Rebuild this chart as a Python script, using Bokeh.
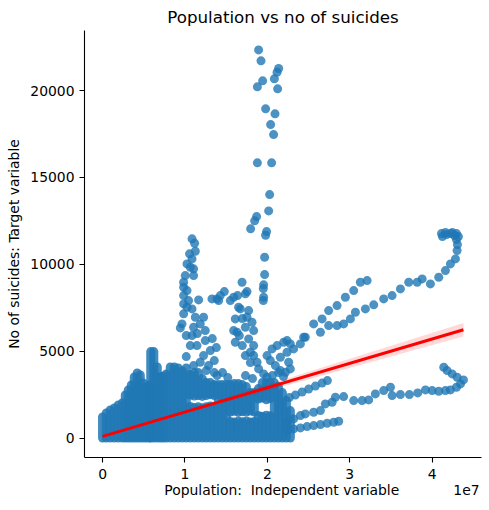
from bokeh.plotting import figure
from bokeh.models import Range1d, FixedTicker, LinearAxis
from bokeh.embed import file_html
from bokeh.resources import INLINE

M = 1e6  # populations below are given in millions

# dense core of the cloud, read as vertical runs of overlapping points
core_pop = [0.0, 0.45, 0.93, 1.42, 1.91, 2.39, 2.76, 3.12, 3.49, 3.85, 4.21, 4.58, 4.94,
            5.31, 5.67, 5.85, 6.22, 6.64, 7.01, 7.37, 7.74, 8.22, 8.71, 9.19, 9.68, 10.16,
            10.65, 10.65, 11.14, 11.14, 11.62, 11.62, 12.11, 12.11, 12.59, 12.59, 13.08, 13.08,
            13.56, 13.56, 14.05, 14.54, 15.02,
            15.51, 15.51, 15.99, 15.99, 16.48, 16.48, 16.96, 16.96, 17.45, 17.45, 17.94, 17.94,
            18.42, 18.42, 18.91, 18.91, 19.39, 19.39, 19.88, 19.88, 20.36, 20.36,
            20.85, 21.34, 21.82, 22.31, 22.79]
core_lo = [0, 0, 0, 0, 0, 0, 0, 0, 0, 0, 0, 0, 0,
           0, 0, 0, 0, 0, 0, 0, 0, 0, 0, 0, 0, 0,
           0, 2480, 0, 2420, 0, 2450, 0, 2400, 0, 2450, 0, 2500,
           0, 2450, 0, 0, 0,
           0, 1500, 0, 1540, 0, 1480, 0, 1520, 0, 1500, 0, 1560,
           0, 1500, 0, 2250, 0, 2300, 0, 2200, 0, 2280,
           0, 0, 0, 0, 0]
core_hi = [1214, 1444, 1617, 1732, 1905, 2020, 2480, 2768, 3056, 3516, 3747, 3631, 3171,
           2941, 3056, 4978, 4978, 4092, 3516, 3574, 3689, 4092, 4092, 4034, 3862, 4034,
           1820, 3654, 1760, 3770, 1800, 3770, 1740, 3424, 1800, 3194, 1850, 3194,
           1780, 3079, 3079, 3079, 3079,
           960, 3079, 920, 3136, 980, 3136, 940, 3079, 990, 2964, 930, 2619,
           960, 2619, 1300, 2849, 1260, 3194, 1320, 3194, 1280, 3194,
           3194, 2964, 2619, 2158, 1583]

# loose points sitting on the upper edge of the core
edge_pop = [13.90, 14.56, 15.20, 17.35, 18.20, 21.35, 21.96]
edge_sui = [3600, 3770, 3480, 3597, 3424, 3770, 3539]

spike_pop = [18.94, 19.23, 21.37, 21.18, 19.43, 18.79, 20.85, 21.25, 19.79, 20.93, 20.40, 20.76,
             18.79, 20.52, 20.28, 20.16, 18.70, 18.46, 17.97, 19.91, 19.79, 19.67, 19.67, 19.55,
             19.51, 19.55, 19.51]
spike_sui = [22338, 21708, 21265, 21052, 20557, 20212, 20672, 20096, 18946, 18658, 18042, 17466,
             15838, 15838, 14013, 13075, 12747, 12500, 12040, 11884, 11671, 10405, 9409, 8817,
             8604, 8103, 7913]

left_pop = [10.86, 11.17, 11.26, 10.56, 10.86, 10.25, 10.65, 11.05, 10.04, 11.05, 9.84, 9.84,
            10.25, 9.84, 10.44, 9.84, 10.25, 10.86, 9.84, 11.26, 12.26, 9.64, 9.44, 11.05,
            11.86, 10.16, 10.86, 11.50, 12.47, 10.65, 11.46, 12.26, 13.08, 12.87, 11.86, 11.05,
            10.16, 13.56, 12.47, 13.32, 13.81, 12.59, 13.56]
left_sui = [11464, 11211, 10750, 10601, 10313, 10025, 9830, 9738, 9352, 9352, 8966, 8679,
            8489, 8201, 7913, 7723, 7528, 7435, 7148, 6952, 6952, 6572, 6342, 6376,
            6572, 5899, 5899, 6014, 5611, 5323, 5323, 4748, 5036, 4172, 4362, 4172,
            4690, 4460, 6187, 5726, 5208, 3885, 3770]

mid_pop = [13.28, 13.89, 14.78, 15.51, 15.91, 16.39, 16.93, 17.33, 17.53, 16.72, 17.73, 16.11,
           17.33, 16.32, 16.11, 17.73, 18.34, 17.94, 18.34, 18.75, 18.94, 19.55, 19.96, 16.51,
           17.53, 18.14, 15.91, 18.34, 11.66, 14.29, 16.96, 16.60, 16.96, 17.33, 17.94, 14.09]
mid_sui = [8011, 8011, 8431, 7913, 8103, 8201, 8966, 8299, 8431, 7435, 7338, 6860,
           6376, 6089, 5513, 5709, 5323, 4938, 4748, 4362, 3982, 3695, 3499, 7528,
           6952, 6664, 6187, 6187, 7953, 8201, 6877, 5899, 5323, 4748, 4345, 7913]

knot_pop = [19.96, 20.57, 21.18, 21.98, 22.39, 22.79, 22.39, 22.59, 22.79, 21.58, 22.19, 23.19,
            24.01, 24.61, 20.36, 20.97, 21.58, 20.61]
knot_sui = [4748, 5133, 5323, 5513, 5611, 5421, 4938, 4362, 3982, 4650, 3787, 5133,
            5421, 5801, 4460, 4172, 3885, 3597]

rise_a_pop = [24.41, 25.62, 26.64, 27.44, 28.46, 29.47, 30.48, 31.29, 32.11]
rise_a_sui = [5801, 6572, 6860, 7338, 7625, 8103, 8489, 8966, 9064]

rise_b_pop = [26.44, 27.44, 28.46, 29.26, 30.08, 30.69, 31.90, 32.91, 34.12, 35.14, 36.15, 37.16,
              38.18, 38.79, 39.79, 40.80, 41.61, 42.22, 42.83, 43.03, 43.07, 42.95, 42.71, 42.22,
              41.74, 41.25, 41.13, 41.61, 42.46, 42.95, 43.19]
rise_b_sui = [6089, 6474, 6474, 6572, 6860, 7240, 7435, 7666, 8011, 8201, 8586, 8966,
              8966, 9162, 8874, 9254, 9640, 10025, 10313, 10791, 11136, 11424, 11654, 11769,
              11712, 11596, 11769, 11827, 11827, 11769, 11596]

tail_a_pop = [41.41, 41.82, 42.43, 43.03, 43.80, 43.44, 42.95, 42.22, 41.61, 40.80, 40.00, 39.19,
              38.25, 37.24, 36.15, 35.14, 34.94, 34.12, 33.11, 32.30, 31.50, 30.48, 29.26, 28.26,
              27.86, 27.04, 26.44, 25.62, 24.61, 24.01, 23.19, 22.39]
tail_a_sui = [4075, 3885, 3695, 3499, 3349, 3119, 2924, 2774, 2734, 2693, 2734, 2774,
              2601, 2503, 2503, 2446, 2924, 2734, 2544, 2198, 2158, 2158, 2388, 2348,
              2060, 1968, 1583, 1485, 1393, 1295, 1105, 909]

tail_b_pop = [28.66, 28.05, 27.25, 26.44, 25.62, 24.82, 24.01, 23.19, 22.39]
tail_b_sui = [967, 909, 852, 777, 719, 662, 587, 529, 460]

tail_c_pop = [27.29, 26.64, 25.83, 25.01, 24.21, 23.40, 22.67]
tail_c_sui = [3309, 3165, 2993, 2820, 2647, 2475, 2331]

# fitted regression line and its confidence band
reg_pop = [0.000278, 43.8]
reg_sui = [100, 6232]
ci_pop = [0.0, 10.0, 20.0, 30.0, 43.8]
ci_lo = [80, 1425, 2730, 4035, 5847]
ci_hi = [120, 1575, 3070, 4565, 6617]

x_ticks = [0, 10000000, 20000000, 30000000, 40000000]
x_tick_labels = ["0", "1", "2", "3", "4"]
y_ticks = [0, 5000, 10000, 15000, 20000]
# second text row under the x axis: the axis title (centred) and the scale text "1e7" (right)
x_title = "Population: \u00a0Independent variable"
x_title_pos = 21750000
x_offset_text = "1e7"
x_offset_pos = 44160000
y_title = "No of suicides: Target variable"

FONT = "DejaVu Sans"
BLUE = "#1f77b4"

p = figure(width=489, height=510, output_backend="svg", toolbar_location=None,
           x_range=Range1d(-2.19e6, 45.99e6), y_range=Range1d(-1117, 23455),
           min_border_left=84, min_border_right=8, min_border_top=30, min_border_bottom=53,
           title="Population vs no of suicides")

p.segment(x0=[v * M for v in core_pop], y0=core_lo, x1=[v * M for v in core_pop], y1=core_hi,
          line_color=BLUE, line_alpha=0.85, line_width=9, line_cap="round")

for xs, ys in [(edge_pop, edge_sui), (spike_pop, spike_sui), (left_pop, left_sui),
               (mid_pop, mid_sui), (knot_pop, knot_sui), (rise_a_pop, rise_a_sui),
               (rise_b_pop, rise_b_sui), (tail_a_pop, tail_a_sui), (tail_b_pop, tail_b_sui),
               (tail_c_pop, tail_c_sui)]:
    p.scatter([v * M for v in xs], ys, size=9, fill_color=BLUE, fill_alpha=0.8, line_color=None)

p.line([v * M for v in reg_pop], reg_sui, line_color="red", line_width=3)
p.varea(x=[v * M for v in ci_pop], y1=ci_lo, y2=ci_hi, fill_color="red", fill_alpha=0.15)

p.title.align = "center"
p.title.text_font = FONT
p.title.text_font_size = "16.7px"
p.title.text_font_style = "normal"
p.title.text_color = "black"
p.title.standoff = 7

p.xgrid.visible = False
p.ygrid.visible = False
p.outline_line_color = None

xax = p.xaxis[0]
yax = p.yaxis[0]
xax.ticker = FixedTicker(ticks=x_ticks)
xax.major_label_overrides = dict(zip(x_ticks, x_tick_labels))
yax.ticker = FixedTicker(ticks=y_ticks)
yax.axis_label = y_title

# text row below the tick labels: x axis title and the "1e7" scale text on one baseline
xtext = LinearAxis(ticker=FixedTicker(ticks=[x_title_pos, x_offset_pos]),
                   major_label_overrides={x_title_pos: x_title, x_offset_pos: x_offset_text})
p.add_layout(xtext, "below")

for ax in (xax, yax, xtext):
    ax.axis_line_color = "black"
    ax.axis_line_width = 1.1
    ax.major_tick_line_color = "black"
    ax.major_tick_line_width = 1.1
    ax.major_tick_out = 5
    ax.major_tick_in = 0
    ax.minor_tick_out = 0
    ax.minor_tick_in = 0
    ax.major_label_text_font = FONT
    ax.major_label_text_font_size = "13.9px"
    ax.major_label_text_color = "black"
    ax.axis_label_text_font = FONT
    ax.axis_label_text_font_size = "13.9px"
    ax.axis_label_text_font_style = "normal"
    ax.axis_label_text_color = "black"

xtext.axis_line_color = None
xtext.major_tick_line_color = None
xtext.major_tick_out = 0
xtext.major_label_standoff = 0

xax.major_label_standoff = 6
yax.major_label_standoff = 5
yax.axis_label_standoff = 5

open("out.html", "w").write(file_html(p, INLINE))
